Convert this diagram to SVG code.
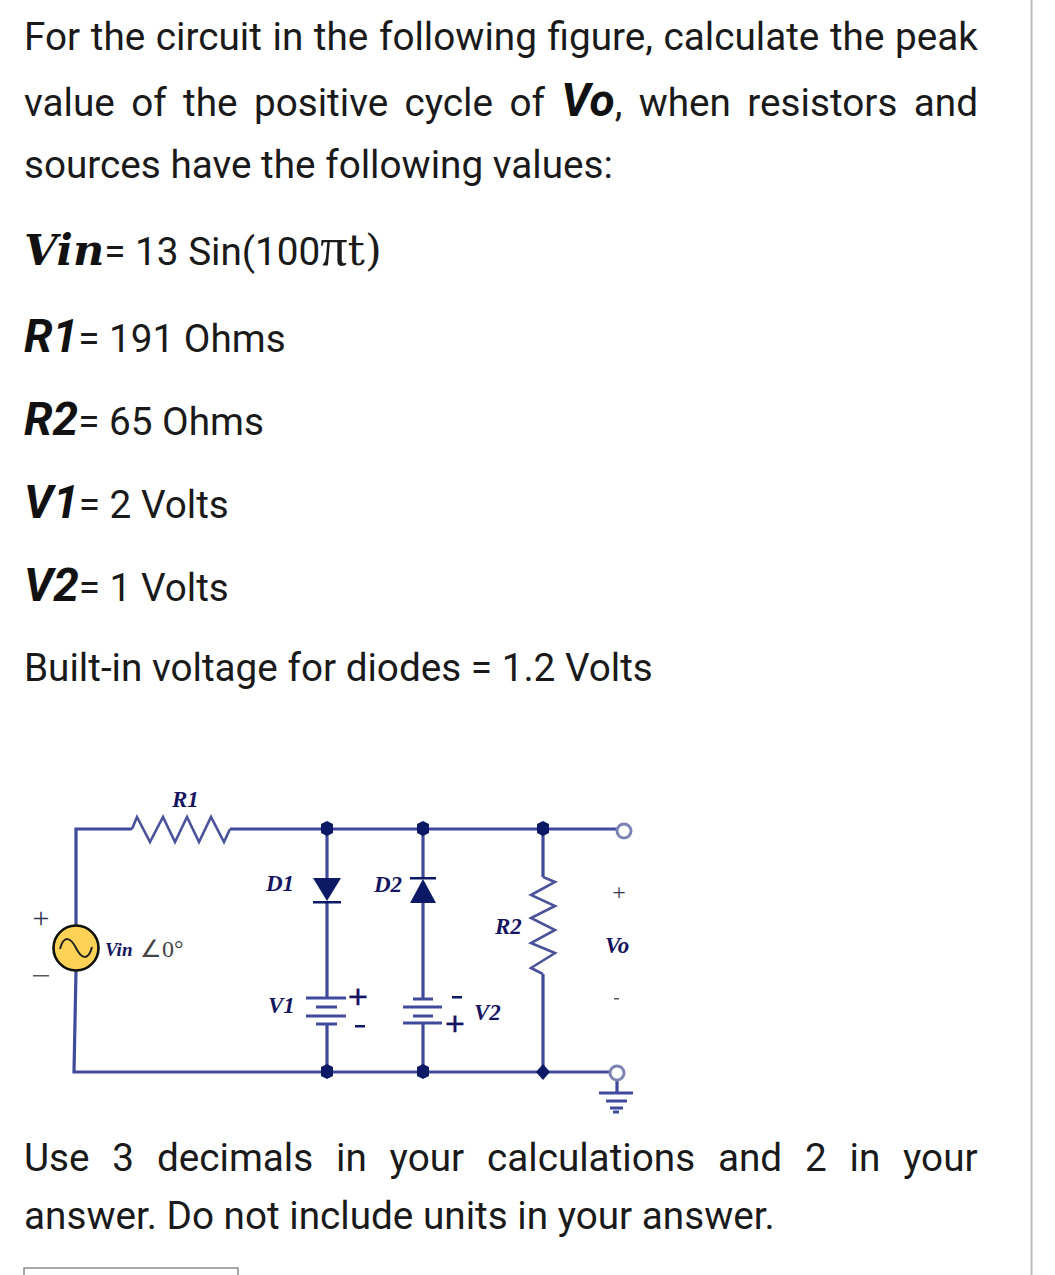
<svg xmlns="http://www.w3.org/2000/svg" width="1055" height="1275" viewBox="0 0 1055 1275">
<style>
.t{font-family:Roboto,"Liberation Sans",sans-serif;font-size:38.7px;fill:#1a1a1a}
.b{font-weight:700;font-style:italic;fill:#111;font-size:46px}
.m{font-family:"DejaVu Serif",serif;font-size:43px}
.l{font-family:"Liberation Serif",serif;font-weight:700;font-style:italic;fill:#14145f;font-size:23px}
.w{fill:none;stroke:#3f4a9c;stroke-width:3.2}
.r{fill:none;stroke:#4a5299;stroke-width:2.6}
.d{fill:#0c1a66}
.s{font-family:"Liberation Serif",serif;fill:#33384f;text-anchor:middle}
.p{font-family:"Liberation Sans",sans-serif;fill:#14145f;font-size:34px;text-anchor:middle;stroke:#14145f;stroke-width:.4}
.bat{stroke:#3f4a9c;stroke-width:3;fill:none}
</style>
<rect width="1055" height="1275" fill="#fff"/>
<line x1="1031.5" y1="0" x2="1031.5" y2="1275" stroke="#bdbdbd" stroke-width="2"/>
<g id="question">
<text class="t" x="24" y="50" word-spacing="1">For the circuit in the following figure, calculate the peak</text>
<text class="t" x="24" y="116" word-spacing="6.8">value of the positive cycle of <tspan class="b">Vo</tspan>, when resistors and</text>
<text class="t" x="24" y="178">sources have the following values:</text>
<text class="t" x="24" y="265"><tspan class="b m">Vin</tspan>= 13 Sin(100<tspan font-family="Liberation Serif,serif" font-size="54">π</tspan><tspan font-family="DejaVu Serif,serif" font-size="43">t)</tspan></text>
<text class="t" x="24" y="352"><tspan class="b">R1</tspan>= 191 Ohms</text>
<text class="t" x="24" y="435"><tspan class="b">R2</tspan>= 65 Ohms</text>
<text class="t" x="24" y="518"><tspan class="b">V1</tspan>= 2 Volts</text>
<text class="t" x="24" y="601"><tspan class="b">V2</tspan>= 1 Volts</text>
<text class="t" x="24" y="681">Built-in voltage for diodes = 1.2 Volts</text>
<text class="t" x="24" y="1171" word-spacing="13.2">Use 3 decimals in your calculations and 2 in your</text>
<text class="t" x="24" y="1229">answer. Do not include units in your answer.</text>
</g>
<g id="connectors">
<path class="w" d="M132 829H76V926M76 971L74 1072H617M230 829H618"/>
<path class="w" d="M327 829V878M327 902V998M327 1024V1072"/>
<path class="w" d="M423 829V878M423 903V999M423 1023V1072"/>
<path class="w" d="M543 829V877M543 974V1072"/>
<path class="w" d="M617 1080V1093"/>
</g>
<g id="R1"><path class="r" d="M132 829L137 817L150 842L163 817L175 842L187 817L199 842L211 817L224 842L230 829"/><text class="l" x="172" y="807">R1</text></g>
<g id="Vin"><circle cx="76" cy="948" r="22.5" fill="#fdd257" stroke="#111" stroke-width="2.6"/><path d="M60 949C64 934 71 938 76 948C81 958 88 962 92 947" fill="none" stroke="#222" stroke-width="2"/>
<text class="s" x="41" y="928" font-size="30">+</text><rect x="33" y="975" width="16" height="1.5" fill="#555"/>
<text class="l" x="105" y="956" style="font-size:19px">Vin</text><text x="140" y="957" font-family="Liberation Serif,serif" font-size="24" fill="#444">∠0°</text></g>
<g id="D1"><text class="l" x="266" y="891">D1</text><path class="d" d="M313 878H341L327 901Z"/><rect class="d" x="313" y="901" width="28" height="2.5"/></g>
<g id="D2"><text class="l" x="374" y="892">D2</text><path class="d" d="M410 903H436L423 879Z"/><rect class="d" x="410" y="877" width="26" height="2.5"/></g>
<g id="R2"><path class="r" d="M543 877L555 882L531 895L555 906L531 918L555 930L531 943L555 953L531 968L543 974"/><text class="l" x="495" y="934">R2</text></g>
<g id="V1"><text class="l" x="268" y="1013">V1</text><path class="bat" d="M306 998H346M316 1007H337M306 1016H346M316 1024H337"/>
<text class="p" x="358" y="1008">+</text><rect class="d" x="355" y="1025" width="10" height="2.5"/></g>
<g id="V2"><text class="l" x="474" y="1020">V2</text><path class="bat" d="M413 999H433M403 1007H442M413 1016H433M403 1023H442"/>
<rect class="d" x="452" y="996" width="10" height="2.5"/><text class="p" x="455" y="1035">+</text></g>
<g id="nodes"><path class="d" d="M327 821l6 3v9l-6 3-6-3v-9Z"/><path class="d" d="M423 821l6 3v9l-6 3-6-3v-9Z"/><path class="d" d="M543 821l6 3v9l-6 3-6-3v-9Z"/><path class="d" d="M327 1064l6 3v9l-6 3-6-3v-9Z"/><path class="d" d="M423 1064l6 3v9l-6 3-6-3v-9Z"/><path class="d" d="M543 1064l7 8-7 8-7-8Z"/></g>
<g id="Vo"><circle cx="624" cy="831" r="7" fill="#fff" stroke="#7d84b5" stroke-width="3"/><text class="s" x="619" y="900" font-size="24">+</text><text class="l" x="605" y="953">Vo</text><rect x="614" y="998" width="5" height="1.5" fill="#555"/></g>
<g id="ground"><circle cx="617" cy="1073" r="7" fill="#fff" stroke="#7d84b5" stroke-width="3"/><path class="bat" d="M599 1093H633M606 1101H627M610 1108H623M613 1112H619"/></g>
<path d="M24 1275V1268H238V1275" fill="none" stroke="#8c8c8c" stroke-width="1.5"/>
</svg>
